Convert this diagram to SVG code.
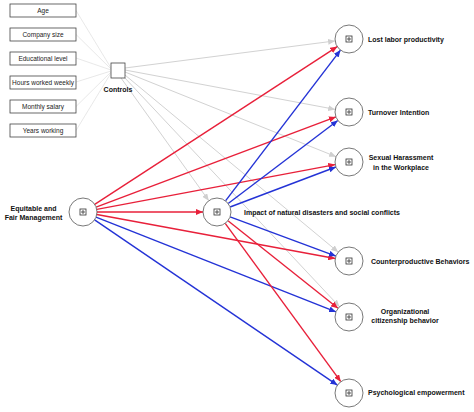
<svg xmlns="http://www.w3.org/2000/svg" width="474" height="412" viewBox="0 0 474 412">
<style>
.bg{fill:#fff}
.box{fill:#fff;stroke:#444;stroke-width:0.8}
.bl{font-family:"Liberation Sans",Arial,sans-serif;font-size:6.5px;fill:#222}
.lb{font-family:"Liberation Sans",Arial,sans-serif;font-size:7px;font-weight:bold;fill:#111}
.node{fill:#fff;stroke:#555;stroke-width:0.8}
.ic{fill:none;stroke:#333;stroke-width:0.8}
.g{stroke:#d2d2d2;stroke-width:1;fill:none}
.gl{stroke:#e2e2e2;stroke-width:0.8;fill:none}
.r{stroke:#e8203a;stroke-width:1.4;fill:none}
.b{stroke:#2433d6;stroke-width:1.4;fill:none}
</style>
<defs>
<marker id="ag" markerUnits="userSpaceOnUse" markerWidth="8" markerHeight="6" refX="7" refY="3" orient="auto"><path d="M0,0 L7,3 L0,6 Z" fill="#cfcfcf"/></marker>
<marker id="ar" markerUnits="userSpaceOnUse" markerWidth="8" markerHeight="6" refX="7" refY="3" orient="auto"><path d="M0,0 L7,3 L0,6 Z" fill="#e8203a"/></marker>
<marker id="ab" markerUnits="userSpaceOnUse" markerWidth="8" markerHeight="6" refX="7" refY="3" orient="auto"><path d="M0,0 L7,3 L0,6 Z" fill="#2433d6"/></marker>
<g id="icon"><rect x="-3" y="-3" width="6" height="6" class="ic"/><path d="M-2,0 H2 M0,-2 V2" class="ic"/></g>
</defs>
<rect class="bg" x="0" y="0" width="474" height="412"/>
<g id="connectors">
<line class="gl" x1="76" y1="10.5" x2="111" y2="68"/>
<line class="gl" x1="76" y1="34.5" x2="111" y2="69"/>
<line class="gl" x1="76" y1="58" x2="111" y2="70"/>
<line class="gl" x1="76" y1="82" x2="111" y2="71"/>
<line class="gl" x1="76" y1="106.5" x2="111" y2="72"/>
<line class="gl" x1="76" y1="130.5" x2="111" y2="73"/>
<line class="g" x1="125" y1="68" x2="335.1" y2="40.9" marker-end="url(#ag)"/>
<line class="g" x1="125" y1="70" x2="335.2" y2="109.4" marker-end="url(#ag)"/>
<line class="g" x1="125" y1="72" x2="336.1" y2="156.7" marker-end="url(#ag)"/>
<line class="g" x1="121" y1="78" x2="208.8" y2="200.7" marker-end="url(#ag)"/>
<line class="g" x1="125" y1="75" x2="338.2" y2="252.1" marker-end="url(#ag)"/>
<line class="g" x1="124" y1="77" x2="339.5" y2="306.7" marker-end="url(#ag)"/>
<line class="r" x1="94.7" y1="204.4" x2="337.3" y2="46.6" marker-end="url(#ar)"/>
<line class="r" x1="96.1" y1="207.1" x2="335.9" y2="116.9" marker-end="url(#ar)"/>
<line class="r" x1="96.8" y1="209.4" x2="335.2" y2="164.6" marker-end="url(#ar)"/>
<line class="r" x1="97" y1="212" x2="203" y2="212" stroke-width="2.2" marker-end="url(#ar)"/>
<line class="r" x1="96.8" y1="214.5" x2="335.2" y2="258.5" marker-end="url(#ar)"/>
<line class="b" x1="96" y1="217.1" x2="336" y2="311.9" marker-end="url(#ab)"/>
<line class="b" x1="94.6" y1="219.9" x2="337.4" y2="385.1" marker-end="url(#ab)"/>
<line class="b" x1="225.5" y1="200.9" x2="340.5" y2="50.1" marker-end="url(#ab)"/>
<line class="b" x1="228.2" y1="203.5" x2="337.8" y2="120.5" marker-end="url(#ab)"/>
<line class="b" x1="230.1" y1="207" x2="335.9" y2="167" marker-end="url(#ab)"/>
<line class="b" x1="230.1" y1="216.9" x2="335.9" y2="256.1" marker-end="url(#ab)"/>
<line class="r" x1="228" y1="220.7" x2="338" y2="308.3" marker-end="url(#ar)"/>
<line class="r" x1="225.2" y1="223.3" x2="340.8" y2="381.7" marker-end="url(#ar)"/>
</g>
<g id="age"><rect class="box" x="10" y="4" width="66" height="13"/><text class="bl" x="43" y="12.8" text-anchor="middle">Age</text></g>
<g id="company-size"><rect class="box" x="10" y="28" width="66" height="13"/><text class="bl" x="43" y="36.8" text-anchor="middle">Company size</text></g>
<g id="educational-level"><rect class="box" x="10" y="52" width="66" height="13"/><text class="bl" x="43" y="60.8" text-anchor="middle">Educational level</text></g>
<g id="hours-worked"><rect class="box" x="10" y="76" width="66" height="13"/><text class="bl" x="43" y="84.8" text-anchor="middle">Hours worked weekly</text></g>
<g id="monthly-salary"><rect class="box" x="10" y="100" width="66" height="13"/><text class="bl" x="43" y="108.8" text-anchor="middle">Monthly salary</text></g>
<g id="years-working"><rect class="box" x="10" y="124" width="66" height="13"/><text class="bl" x="43" y="132.8" text-anchor="middle">Years working</text></g>
<g id="controls"><rect class="box" x="111" y="63" width="14" height="15"/><text class="lb" x="118" y="91.5" text-anchor="middle">Controls</text></g>
<g id="equitable"><circle class="node" cx="83" cy="212" r="14"/><use href="#icon" x="83" y="212"/><text class="lb" x="33.5" y="210.5" text-anchor="middle">Equitable and</text><text class="lb" x="33.5" y="219.5" text-anchor="middle">Fair Management</text></g>
<g id="impact"><circle class="node" cx="217" cy="212" r="14"/><use href="#icon" x="217" y="212"/><text class="lb" x="244" y="214.5">Impact of natural disasters and social conflicts</text></g>
<g id="lost-labor"><circle class="node" cx="349" cy="39" r="14"/><use href="#icon" x="349" y="39"/><text class="lb" x="368" y="41.5">Lost labor productivity</text></g>
<g id="turnover"><circle class="node" cx="349" cy="112" r="14"/><use href="#icon" x="349" y="112"/><text class="lb" x="368" y="114.5">Turnover Intention</text></g>
<g id="sexual-harassment"><circle class="node" cx="349" cy="162" r="14"/><use href="#icon" x="349" y="162"/><text class="lb" x="401" y="160" text-anchor="middle">Sexual Harassment</text><text class="lb" x="401" y="169.5" text-anchor="middle">in the Workplace</text></g>
<g id="counterproductive"><circle class="node" cx="349" cy="261" r="14"/><use href="#icon" x="349" y="261"/><text class="lb" x="371" y="263.5">Counterproductive Behaviors</text></g>
<g id="ocb"><circle class="node" cx="349" cy="317" r="14"/><use href="#icon" x="349" y="317"/><text class="lb" x="405" y="314" text-anchor="middle">Organizational</text><text class="lb" x="405" y="323" text-anchor="middle">citizenship behavior</text></g>
<g id="psychological"><circle class="node" cx="349" cy="393" r="14"/><use href="#icon" x="349" y="393"/><text class="lb" x="368" y="395">Psychological empowerment</text></g>
</svg>
